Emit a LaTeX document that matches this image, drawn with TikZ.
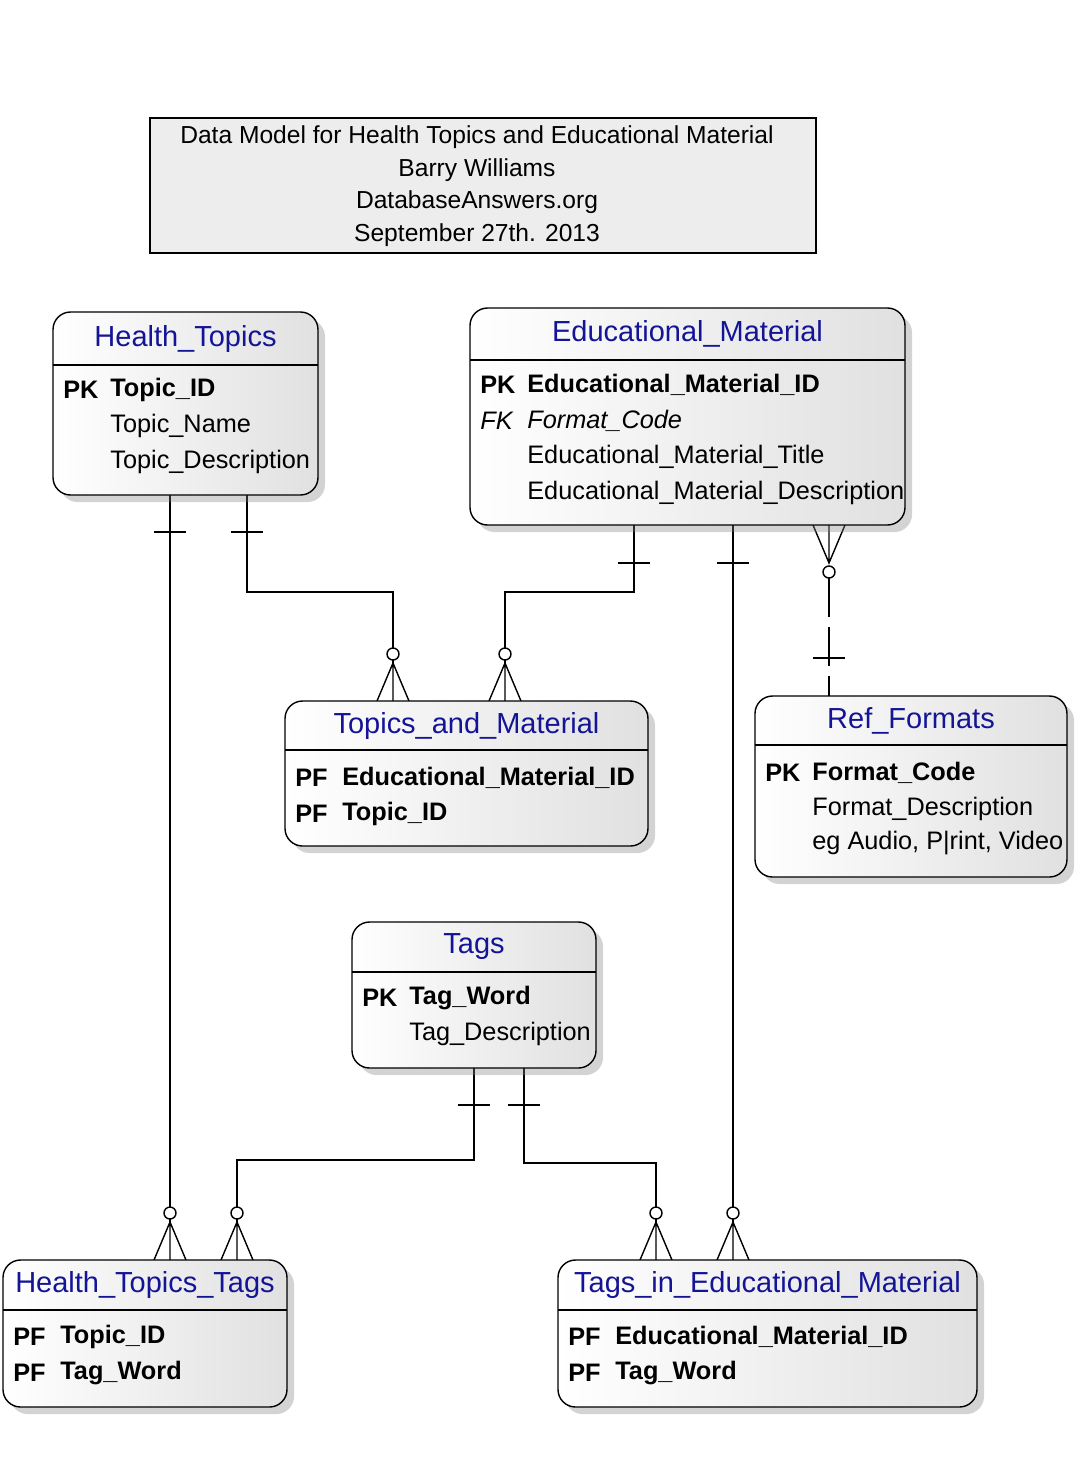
\documentclass[tikz,border=0pt]{standalone}
\usepackage{fontspec}
\setmainfont{Liberation Sans}
\usetikzlibrary{shadows, calc, positioning}

\definecolor{headblue}{RGB}{20,20,150}
\tikzset{
  entity box/.style={draw=black, thick, rounded corners=10pt, left color=white, right color=black!12, drop shadow={opacity=.35, shadow xshift=4pt, shadow yshift=-4pt}},
  head/.style={text=headblue, font=\fontsize{16.5}{19}\selectfont},
  attr/.style={anchor=west, inner sep=0pt, font=\fontsize{14.4}{17}\selectfont},
  rel/.style={draw=black, line width=.8pt},
}
% entity: name, x1, y1, x2, y2, header line, title
\newcommand\entity[7]{%
  \path[entity box] (#2,#3) rectangle (#4,#5);
  \draw[thick] (#2,#6) -- (#4,#6);
  \node[head] (#1) at ({(#2+#4)/2},{(#3+#6)/2}) {#7};
}
% attribute: x, y, key, name
\newcommand\attrib[4]{%
  \node[attr] at (#1+10,#2) {#3};
  \node[attr] at (#1+57,#2) {#4};
}
% one bar across a line
\newcommand\onebar[2]{\draw[rel] (#1-16,#2) -- (#1+16,#2);}
% crow foot with circle: x, edge y, direction
\newcommand\crowfoot[3]{%
  \draw[rel] (#1-16,#2) -- (#1,#2-38*#3) -- (#1+16,#2) (#1,#2) -- (#1,#2-38*#3);
  \draw[rel, fill=white] (#1,#2-47*#3) circle[radius=0.12cm];
}

\begin{document}
\begin{tikzpicture}[x=0.02cm, y=-0.02cm]
\useasboundingbox (0,0) rectangle (1080,1475);

% title box
\draw[thick, fill=black!7] (150,118) rectangle (816,253);
\node[align=center, font=\fontsize{14}{18.6}\selectfont] (title) at (477,186)
  {Data Model for Health Topics and Educational Material\\Barry Williams\\DatabaseAnswers.org\\September 27th. 2013};

% connectors
\draw[rel] (170,495) -- (170,1222);
\draw[rel] (247,495) -- (247,592) -- (393,592) -- (393,663);
\draw[rel] (634,525) -- (634,592) -- (505,592) -- (505,663);
\draw[rel] (733,525) -- (733,1222);
\draw[rel, dash pattern=on 22pt off 6pt] (829,578) -- (829,696);
\draw[rel] (474,1068) -- (474,1160) -- (237,1160) -- (237,1222);
\draw[rel] (524,1068) -- (524,1163) -- (656,1163) -- (656,1222);

\onebar{170}{532} \onebar{247}{532}
\onebar{634}{563} \onebar{733}{563}
\onebar{829}{658}
\onebar{474}{1105} \onebar{524}{1105}
\crowfoot{393}{701}{1} \crowfoot{505}{701}{1}
\crowfoot{829}{525}{-1}
\crowfoot{170}{1260}{1} \crowfoot{237}{1260}{1}
\crowfoot{656}{1260}{1} \crowfoot{733}{1260}{1}

% entities
\entity{health_topics}{53}{312}{318}{495}{365}{Health\_Topics}
\attrib{53}{390}{\textbf{PK}}{\textbf{Topic\_ID}}
\attrib{53}{426}{}{Topic\_Name}
\attrib{53}{462}{}{Topic\_Description}

\entity{edu_material}{470}{308}{905}{525}{360}{Educational\_Material}
\attrib{470}{385}{\textbf{PK}}{\textbf{Educational\_Material\_ID}}
\attrib{470}{421}{\textit{FK}}{\textit{Format\_Code}}
\attrib{470}{457}{}{Educational\_Material\_Title}
\attrib{470}{493}{}{Educational\_Material\_Description}

\entity{topics_material}{285}{701}{648}{846}{750}{Topics\_and\_Material}
\attrib{285}{778}{\textbf{PF}}{\textbf{Educational\_Material\_ID}}
\attrib{285}{814}{\textbf{PF}}{\textbf{Topic\_ID}}

\entity{ref_formats}{755}{696}{1067}{877}{745}{Ref\_Formats}
\attrib{755}{773}{\textbf{PK}}{\textbf{Format\_Code}}
\attrib{755}{809}{}{Format\_Description}
\attrib{755}{843}{}{eg Audio, P|rint, Video}

\entity{tags}{352}{922}{596}{1068}{972}{Tags}
\attrib{352}{998}{\textbf{PK}}{\textbf{Tag\_Word}}
\attrib{352}{1034}{}{Tag\_Description}

\entity{health_topics_tags}{3}{1260}{287}{1407}{1310}{Health\_Topics\_Tags}
\attrib{3}{1337}{\textbf{PF}}{\textbf{Topic\_ID}}
\attrib{3}{1373}{\textbf{PF}}{\textbf{Tag\_Word}}

\entity{tags_material}{558}{1260}{977}{1407}{1310}{Tags\_in\_Educational\_Material}
\attrib{558}{1337}{\textbf{PF}}{\textbf{Educational\_Material\_ID}}
\attrib{558}{1373}{\textbf{PF}}{\textbf{Tag\_Word}}
\end{tikzpicture}
\end{document}
